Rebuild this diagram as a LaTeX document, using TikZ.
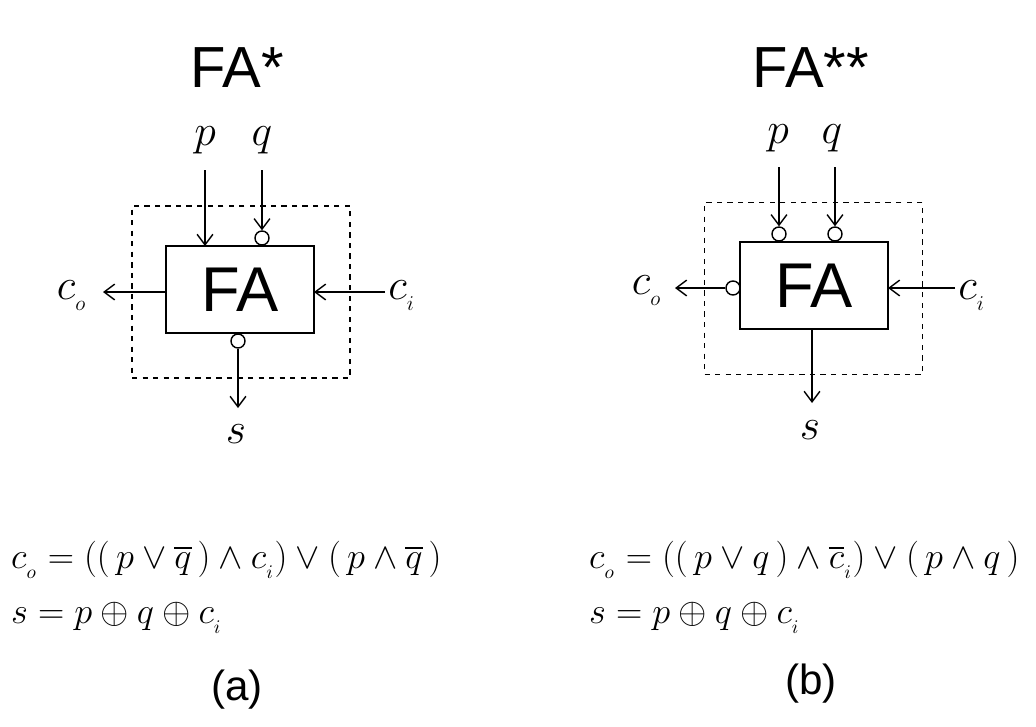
\documentclass[tikz,border=0pt]{standalone}
\usepackage{fontspec}
\setmainfont{Liberation Sans}
\usepackage{amsmath}
\usetikzlibrary{arrows.meta}
\begin{document}
\begin{tikzpicture}[x=0.02cm,y=-0.02cm,
  box/.style={draw,line width=0.8pt,minimum width=2.96cm,minimum height=1.74cm,inner sep=0pt,font=\fontsize{36}{40}\selectfont},
  dbox/.style={draw,dashed,line width=0.8pt,minimum width=4.36cm,minimum height=3.44cm,inner sep=0pt},
  bub/.style={draw,circle,line width=0.8pt,minimum size=0.28cm,inner sep=0pt,fill=white},
  arr/.style={->,line width=0.8pt,>={Straight Barb[length=6pt,width=9pt]}},
  lab/.style={font=\fontsize{26}{30}\selectfont},
  ttl/.style={font=\fontsize{33}{38}\selectfont},
  eq/.style={anchor=west,font=\fontsize{21}{26}\selectfont}]
\useasboundingbox (0,0) rectangle (1036,727);
% left
\node[ttl] (t1) at (237,68) {FA*};
\node[dbox] (d1) at (241,292) {};
\node[box] (f1) at (240,289.5) {FA};
\node[lab] (p1) at (205,140) {$p$};
\node[lab] (q1) at (262,140) {$q$};
\node[bub] (bq1) at (262,238) {};
\node[bub] (bs1) at (238,341) {};
\node[lab] (co1) at (72,296) {$c_{_o}$};
\node[lab] (ci1) at (402,296) {$c_{_i}$};
\node[lab] (s1) at (236,434) {$s$};
\coordinate (pa1) at (205,170); \coordinate (pb1) at (205,246);
\coordinate (qa1) at (262,170);
\coordinate (cl1) at (166,292); \coordinate (clo1) at (103,292);
\coordinate (cr1) at (314,292); \coordinate (cri1) at (385,292);
\coordinate (so1) at (238,408);
\draw[arr] (pa1) -- (pb1);
\draw[arr] (qa1) -- (bq1.north);
\draw[arr] (cl1) -- (clo1);
\draw[arr] (cri1) -- (cr1);
\draw[arr] (bs1.south) -- (so1);
% right
\node[ttl] (t2) at (811,68) {FA**};
\node[dbox] (d2) at (813.5,288.5) {};
\node[box] (f2) at (814,285.5) {FA};
\node[lab] (p2) at (778,138) {$p$};
\node[lab] (q2) at (832,138) {$q$};
\node[bub] (bp2) at (779,234) {};
\node[bub] (bq2) at (835,234) {};
\node[bub] (bc2) at (733,288) {};
\node[lab] (co2) at (647,291) {$c_{_o}$};
\node[lab] (ci2) at (972,296) {$c_{_i}$};
\node[lab] (s2) at (810,430) {$s$};
\coordinate (pa2) at (779,167); \coordinate (qa2) at (835,167);
\coordinate (clo2) at (675,288);
\coordinate (cr2) at (888,288); \coordinate (cri2) at (955,288);
\coordinate (sa2) at (812,329); \coordinate (so2) at (812,403);
\draw[arr] (pa2) -- (bp2.north);
\draw[arr] (qa2) -- (bq2.north);
\draw[arr] (bc2.west) -- (clo2);
\draw[arr] (cri2) -- (cr2);
\draw[arr] (sa2) -- (so2);
% equations
\node[eq] (e1) at (5,560) {$c_{_o} = ((\,p \vee \overline{q}\,) \wedge c_{_i}) \vee (\,p \wedge \overline{q}\,)$};
\node[eq] (e2) at (5,618) {$s = p \oplus q \oplus c_{_i}$};
\node[eq] (e3) at (583,560) {$c_{_o} = ((\,p \vee q\,) \wedge \overline{c}_{_i}) \vee (\,p \wedge q\,)$};
\node[eq] (e4) at (583,618) {$s = p \oplus q \oplus c_{_i}$};
\node[font=\fontsize{24}{28}\selectfont] (a) at (237,690) {(a)};
\node[font=\fontsize{24}{28}\selectfont] (b) at (811,684) {(b)};
\end{tikzpicture}
\end{document}
